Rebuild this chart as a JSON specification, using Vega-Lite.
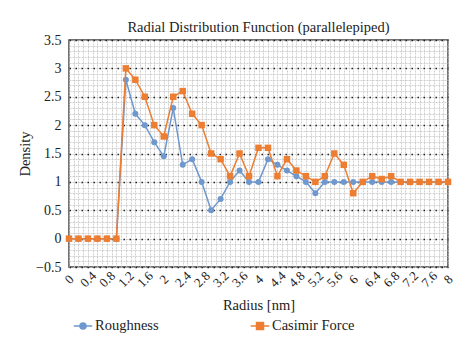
{
  "$schema": "https://vega.github.io/schema/vega-lite/v6.json",
  "width": 379,
  "height": 227,
  "autosize": {"type": "none"},
  "padding": {"left": 69, "top": 40, "right": 26, "bottom": 88},
  "background": "white",
  "title": {"text": "Radial Distribution Function (parallelepiped)", "font": "Liberation Serif", "fontSize": 14.5, "fontWeight": "normal", "color": "#222", "offset": 0, "dy": 2},
  "config": {
    "view": {"stroke": "#444", "strokeWidth": 1.5},
    "font": "Liberation Serif",
    "axis": {"labelFont": "Liberation Serif", "titleFont": "Liberation Serif"},
    "legend": {"labelFont": "Liberation Serif", "titleFont": "Liberation Serif"}
  },
  "data": {"values": [
    {"r":0,"s":"Roughness","d":0},{"r":0.2,"s":"Roughness","d":0},{"r":0.4,"s":"Roughness","d":0},{"r":0.6,"s":"Roughness","d":0},{"r":0.8,"s":"Roughness","d":0},{"r":1.0,"s":"Roughness","d":0},
    {"r":1.2,"s":"Roughness","d":2.8},{"r":1.4,"s":"Roughness","d":2.2},{"r":1.6,"s":"Roughness","d":2.0},{"r":1.8,"s":"Roughness","d":1.7},{"r":2.0,"s":"Roughness","d":1.45},
    {"r":2.2,"s":"Roughness","d":2.3},{"r":2.4,"s":"Roughness","d":1.3},{"r":2.6,"s":"Roughness","d":1.4},{"r":2.8,"s":"Roughness","d":1.0},{"r":3.0,"s":"Roughness","d":0.5},
    {"r":3.2,"s":"Roughness","d":0.7},{"r":3.4,"s":"Roughness","d":1.0},{"r":3.6,"s":"Roughness","d":1.2},{"r":3.8,"s":"Roughness","d":1.0},{"r":4.0,"s":"Roughness","d":1.0},
    {"r":4.2,"s":"Roughness","d":1.4},{"r":4.4,"s":"Roughness","d":1.3},{"r":4.6,"s":"Roughness","d":1.2},{"r":4.8,"s":"Roughness","d":1.1},{"r":5.0,"s":"Roughness","d":1.0},
    {"r":5.2,"s":"Roughness","d":0.8},{"r":5.4,"s":"Roughness","d":1.0},{"r":5.6,"s":"Roughness","d":1.0},{"r":5.8,"s":"Roughness","d":1.0},{"r":6.0,"s":"Roughness","d":1.0},
    {"r":6.2,"s":"Roughness","d":1.0},{"r":6.4,"s":"Roughness","d":1.0},{"r":6.6,"s":"Roughness","d":1.0},{"r":6.8,"s":"Roughness","d":1.0},{"r":7.0,"s":"Roughness","d":1.0},
    {"r":7.2,"s":"Roughness","d":1.0},{"r":7.4,"s":"Roughness","d":1.0},{"r":7.6,"s":"Roughness","d":1.0},{"r":7.8,"s":"Roughness","d":1.0},{"r":8.0,"s":"Roughness","d":1.0},
    {"r":0,"s":"Casimir Force","d":0},{"r":0.2,"s":"Casimir Force","d":0},{"r":0.4,"s":"Casimir Force","d":0},{"r":0.6,"s":"Casimir Force","d":0},{"r":0.8,"s":"Casimir Force","d":0},{"r":1.0,"s":"Casimir Force","d":0},
    {"r":1.2,"s":"Casimir Force","d":3.0},{"r":1.4,"s":"Casimir Force","d":2.8},{"r":1.6,"s":"Casimir Force","d":2.5},{"r":1.8,"s":"Casimir Force","d":2.0},{"r":2.0,"s":"Casimir Force","d":1.8},
    {"r":2.2,"s":"Casimir Force","d":2.5},{"r":2.4,"s":"Casimir Force","d":2.6},{"r":2.6,"s":"Casimir Force","d":2.2},{"r":2.8,"s":"Casimir Force","d":2.0},{"r":3.0,"s":"Casimir Force","d":1.5},
    {"r":3.2,"s":"Casimir Force","d":1.4},{"r":3.4,"s":"Casimir Force","d":1.1},{"r":3.6,"s":"Casimir Force","d":1.5},{"r":3.8,"s":"Casimir Force","d":1.1},{"r":4.0,"s":"Casimir Force","d":1.6},
    {"r":4.2,"s":"Casimir Force","d":1.6},{"r":4.4,"s":"Casimir Force","d":1.1},{"r":4.6,"s":"Casimir Force","d":1.4},{"r":4.8,"s":"Casimir Force","d":1.2},{"r":5.0,"s":"Casimir Force","d":1.1},
    {"r":5.2,"s":"Casimir Force","d":1.0},{"r":5.4,"s":"Casimir Force","d":1.1},{"r":5.6,"s":"Casimir Force","d":1.5},{"r":5.8,"s":"Casimir Force","d":1.3},{"r":6.0,"s":"Casimir Force","d":0.8},
    {"r":6.2,"s":"Casimir Force","d":1.0},{"r":6.4,"s":"Casimir Force","d":1.1},{"r":6.6,"s":"Casimir Force","d":1.05},{"r":6.8,"s":"Casimir Force","d":1.1},{"r":7.0,"s":"Casimir Force","d":1.0},
    {"r":7.2,"s":"Casimir Force","d":1.0},{"r":7.4,"s":"Casimir Force","d":1.0},{"r":7.6,"s":"Casimir Force","d":1.0},{"r":7.8,"s":"Casimir Force","d":1.0},{"r":8.0,"s":"Casimir Force","d":1.0}
  ]},
  "layer": [
    {
      "transform": [{"filter": "datum.s === 'Roughness'"}],
      "mark": {"type": "line", "strokeWidth": 1.5},
      "encoding": {
        "x": {"field": "r", "type": "quantitative", "scale": {"domain": [0, 8], "nice": false},
          "axis": {"orient": "bottom", "values": [0,0.1,0.2,0.3,0.4,0.5,0.6,0.7,0.8,0.9,1,1.1,1.2,1.3,1.4,1.5,1.6,1.7,1.8,1.9,2,2.1,2.2,2.3,2.4,2.5,2.6,2.7,2.8,2.9,3,3.1,3.2,3.3,3.4,3.5,3.6,3.7,3.8,3.9,4,4.1,4.2,4.3,4.4,4.5,4.6,4.7,4.8,4.9,5,5.1,5.2,5.3,5.4,5.5,5.6,5.7,5.8,5.9,6,6.1,6.2,6.3,6.4,6.5,6.6,6.7,6.8,6.9,7,7.1,7.2,7.3,7.4,7.5,7.6,7.7,7.8,7.9,8],
            "grid": true, "gridColor": "#c4c4c4", "gridWidth": 0.8, "gridDash": [2, 1], "labels": false, "ticks": false, "domain": false, "title": null}},
        "y": {"field": "d", "type": "quantitative", "scale": {"domain": [-0.5, 3.5], "nice": false},
          "axis": {"orient": "left", "values": [-0.5,-0.4,-0.3,-0.2,-0.1,0,0.1,0.2,0.3,0.4,0.5,0.6,0.7,0.8,0.9,1,1.1,1.2,1.3,1.4,1.5,1.6,1.7,1.8,1.9,2,2.1,2.2,2.3,2.4,2.5,2.6,2.7,2.8,2.9,3,3.1,3.2,3.3,3.4,3.5],
            "grid": true, "gridColor": "#c4c4c4", "gridWidth": 0.8, "gridDash": [2, 1], "labels": false, "ticks": false, "domain": false, "title": null}},
        "color": {"field": "s", "type": "nominal", "scale": {"domain": ["Roughness"], "range": ["#6f98cd"]}, "legend": null}
      }
    },
    {
      "transform": [{"filter": "datum.s === 'Roughness'"}],
      "mark": {"type": "point", "shape": "circle", "filled": true, "size": 36, "opacity": 1},
      "encoding": {
        "x": {"field": "r", "type": "quantitative", "scale": {"domain": [0, 8], "nice": false},
          "axis": {"orient": "bottom", "values": [0,0.4,0.8,1.2,1.6,2,2.4,2.8,3.2,3.6,4,4.4,4.8,5.2,5.6,6,6.4,6.8,7.2,7.6,8], "format": "~g",
            "grid": false, "ticks": false, "domain": false, "labelAngle": -45, "labelAlign": "center", "labelBaseline": "middle", "labelOverlap": false, "labelBound": false,
            "labelFont": "Liberation Serif", "labelFontSize": 13, "labelColor": "#222", "labelPadding": 12,
            "title": "Radius [nm]", "titleFont": "Liberation Serif", "titleFontSize": 14.5, "titleFontWeight": "normal", "titleColor": "#222", "titlePadding": 9}},
        "y": {"field": "d", "type": "quantitative", "scale": {"domain": [-0.5, 3.5], "nice": false},
          "axis": {"orient": "left", "values": [-0.5,0,0.5,1,1.5,2,2.5,3,3.5], "format": "~g",
            "grid": true, "gridColor": "#222", "gridWidth": 1.5, "gridDash": [1.5, 4.5], "ticks": false, "domain": false,
            "labelFont": "Liberation Serif", "labelFontSize": 14, "labelColor": "#222", "labelPadding": 8,
            "title": "Density", "titleFont": "Liberation Serif", "titleFontSize": 14.5, "titleFontWeight": "normal", "titleColor": "#222", "titlePadding": 3}},
        "color": {"field": "s", "type": "nominal", "title": null, "scale": {"domain": ["Roughness"], "range": ["#6f98cd"]},
          "legend": {"orient": "none", "legendX": 4, "legendY": 276, "direction": "horizontal",
            "symbolType": "M-1,0H1M0.33,0A0.33,0.33 0 1,1 -0.33,0A0.33,0.33 0 1,1 0.33,0Z",
            "symbolSize": 340, "symbolStrokeWidth": 1.5, "symbolStrokeColor": "#6f98cd", "symbolFillColor": "#6f98cd",
            "labelFont": "Liberation Serif", "labelFontSize": 14.5, "labelColor": "#222", "labelOffset": 2}}
      }
    },
    {
      "transform": [{"filter": "datum.s === 'Casimir Force'"}],
      "mark": {"type": "line", "strokeWidth": 1.5},
      "encoding": {
        "x": {"field": "r", "type": "quantitative", "axis": null},
        "y": {"field": "d", "type": "quantitative", "axis": null},
        "color": {"field": "s", "type": "nominal", "scale": {"domain": ["Casimir Force"], "range": ["#ed7d31"]}, "legend": null}
      }
    },
    {
      "transform": [{"filter": "datum.s === 'Casimir Force'"}],
      "mark": {"type": "point", "shape": "square", "filled": true, "size": 42, "opacity": 1},
      "encoding": {
        "x": {"field": "r", "type": "quantitative", "axis": null},
        "y": {"field": "d", "type": "quantitative", "axis": null},
        "color": {"field": "s", "type": "nominal", "title": null, "scale": {"domain": ["Casimir Force"], "range": ["#ed7d31"]},
          "legend": {"orient": "none", "legendX": 181, "legendY": 276, "direction": "horizontal",
            "symbolType": "M-1,0H1M-0.38,-0.38H0.38V0.38H-0.38Z",
            "symbolSize": 340, "symbolStrokeWidth": 1.5, "symbolStrokeColor": "#ed7d31", "symbolFillColor": "#ed7d31",
            "labelFont": "Liberation Serif", "labelFontSize": 14.5, "labelColor": "#222", "labelOffset": 2}}
      }
    }
  ],
  "resolve": {"axis": {"x": "independent", "y": "independent"}, "scale": {"color": "independent"}, "legend": {"color": "independent"}}
}
